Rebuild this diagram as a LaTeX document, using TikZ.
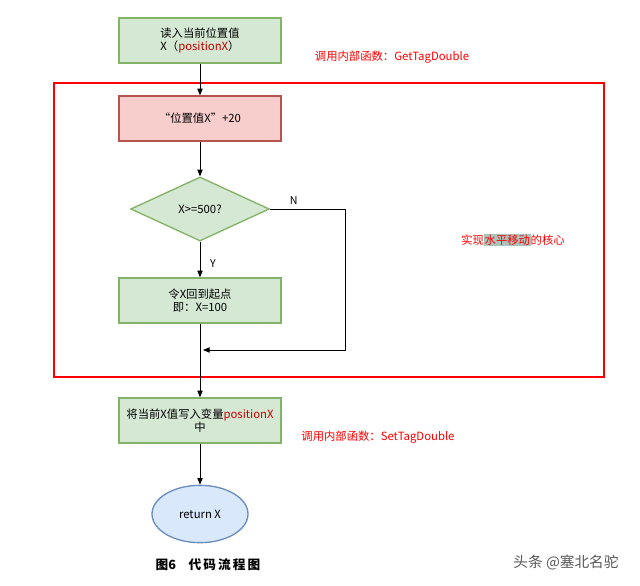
\documentclass[tikz,border=0pt]{standalone}
\usepackage{fontspec}
\setmainfont{Noto Sans CJK SC}
\usepackage{tikz}
\usetikzlibrary{shapes.geometric,arrows.meta}
\definecolor{gfill}{HTML}{D5E8D4}
\definecolor{gdraw}{HTML}{82B366}
\definecolor{rfill}{HTML}{F8CECC}
\definecolor{rdraw}{HTML}{B85450}
\definecolor{bfill}{HTML}{DAE8FC}
\definecolor{bdraw}{HTML}{6C8EBF}
\definecolor{hl}{HTML}{A9C4BC}
\tikzset{
  block/.style={rectangle, draw=gdraw, fill=gfill, line width=1pt,
    minimum width=121.5pt, minimum height=33.75pt, text width=115pt, align=center,
    font=\fontsize{8.5}{10}\selectfont},
  decision/.style={diamond, draw=gdraw, fill=gfill, line width=1pt, aspect=2.17,
    minimum width=104pt, minimum height=48pt, inner sep=0pt, font=\fontsize{8.5}{10}\selectfont},
  note/.style={text=red, font=\fontsize{8.5}{10}\selectfont},
  line/.style={draw, line width=0.6pt, -{Triangle[length=5pt,width=4pt]}}
}
\begin{document}
\begin{tikzpicture}[x=0.75pt, y=-0.75pt]
    \useasboundingbox (0,0) rectangle (640,586);
    % red frame
    \draw [red, line width=1.5pt] (54,83) rectangle (604,377);
    % Place nodes
    \node [block] (read) at (200,40.5) {读入当前位置值\\X（\textcolor{red!75!black}{positionX}）};
    \node [block, draw=rdraw, fill=rfill] (add) at (200,118.5) {“位置值X”+20};
    \node [decision] (check) at (200,209) {X>=500?};
    \node [block] (reset) at (200,300.5) {令X回到起点\\即：X=100};
    \node [block] (write) at (200,420.5) {将当前X值写入变量\textcolor{red!80!black}{positionX}\\中};
    \node [ellipse, draw=bdraw, fill=bfill, line width=1pt, minimum width=72pt,
      minimum height=43pt, font=\fontsize{8.5}{10}\selectfont] (ret) at (200,514) {return X};
    \coordinate (right) at (345,209);
    \coordinate (join) at (200,350);
    % notes
    \node [note] (get) at (392,57) {调用内部函数：GetTagDouble};
    \node [note] (core) at (513,240) {实现{\setlength{\fboxsep}{0.5pt}\colorbox{hl}{水平移动}}的核心};
    \node [note] (set) at (378,437) {调用内部函数：SetTagDouble};
    \node [font=\fontsize{9.5}{11}\selectfont\bfseries] (cap) at (208,565) {图6\quad 代\,码\,流\,程\,图};
    \node [gray!70!black, font=\fontsize{11}{12}\selectfont] (mark) at (566,563) {头条 @塞北名驼};
    % Draw edges
    \path [line] (read) -- (add);
    \path [line] (add) -- (check);
    \path [line] (check) -- node [right, pos=0.62, xshift=4pt, font=\fontsize{8}{9}\selectfont] {Y} (reset);
    \draw [line width=0.6pt] (check.east) -- node [above right, pos=0.2, font=\fontsize{8}{9}\selectfont] {N} (right);
    \path [line] (right) |- ([xshift=2.25pt]join);
    \path [line] (reset) -- (write);
    \path [line] (write) -- (ret);
\end{tikzpicture}
\end{document}
